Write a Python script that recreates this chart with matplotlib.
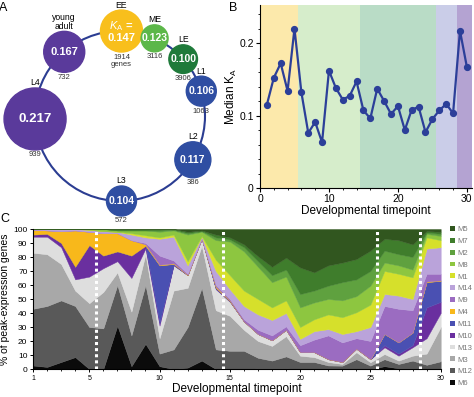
import matplotlib
matplotlib.use('Agg')
import matplotlib.pyplot as plt
import numpy as np
from matplotlib.patches import Circle, Patch
from matplotlib.ticker import MultipleLocator, FixedLocator

plt.rcParams['font.family'] = ['Liberation Sans', 'DejaVu Sans']
plt.rcParams['mathtext.fontset'] = 'custom'
plt.rcParams['mathtext.rm'] = 'Liberation Sans'
plt.rcParams['mathtext.it'] = 'Liberation Sans:italic'
plt.rcParams['mathtext.bf'] = 'Liberation Sans:bold'

# ---------------- Panel A data ----------------
stages = ['EE', 'ME', 'LE', 'L1', 'L2', 'L3', 'L4', 'young\nadult']
stage_ka = [0.147, 0.123, 0.100, 0.106, 0.117, 0.104, 0.217, 0.167]
stage_genes = ['1914\ngenes', '3116', '3906', '1063', '386', '572', '939', '732']

# ---------------- Panel B data ----------------
timepoints = list(range(1, 31))
median_ka = [0.115, 0.152, 0.172, 0.134, 0.220, 0.132, 0.076, 0.091, 0.063, 0.162,
             0.138, 0.122, 0.127, 0.147, 0.107, 0.096, 0.137, 0.120, 0.102, 0.113,
             0.080, 0.108, 0.112, 0.077, 0.095, 0.107, 0.116, 0.103, 0.217, 0.167]
stage_bounds = [0, 5.5, 14.5, 25.5, 28.5, 30.7]

# ---------------- Panel C data (percent of genes per module) ----------------
modules = ['M6', 'M12', 'M3', 'M13', 'M10', 'M11', 'M4', 'M9', 'M14', 'M1', 'M8', 'M2', 'M7', 'M5']
M6 = [2.5, 1.5, 5, 8.5, 0, 0, 31, 2, 18, 2, 0, 1, 6, 0, 0, 0, 0.5, 0.5, 0.5, 0,
      0, 0, 0, 0, 0, 2, 0.5, 0.5, 0, 0]
M12 = [40.5, 43.5, 44, 36.5, 30, 29, 29, 22, 42, 9, 14, 29, 52, 14, 13, 13, 7.5, 5.5, 8.5, 5,
       5, 2.5, 2.4, 7, 2.4, 5, 3.1, 5.5, 3, 5.5]
M3 = [40, 37, 26, 11, 17, 26, 9, 17, 22, 11, 42, 28, 30, 28, 25, 15, 12, 10.5, 14.5, 4.5,
      3.5, 2.5, 1.2, 5, 2.4, 3.7, 2.4, 3.5, 8, 24.5]
M13 = [11.5, 12.5, 12, 8, 19, 17, 8, 24, 4, 9, 18, 9, 5, 15, 10, 6, 5, 4, 4.5, 2.5,
       3.5, 2, 1.4, 2.5, 2.2, 4.8, 3.5, 6, 11, 10]
M10 = [1.5, 2, 3, 9, 22.5, 9, 7, 16, 2, 2, 0.5, 0, 0, 0.5, 0.5, 0, 0, 0, 0, 0,
       0, 0, 0, 0, 0, 1.5, 1.5, 1.5, 22, 8]
M11 = [0, 0, 0, 0, 0, 0, 0, 0, 0, 41, 0.5, 0, 0, 0.5, 0, 0, 0, 0, 0, 0,
       0, 0, 0, 0, 0, 8, 8, 9, 18, 15]
M4 = [3.5, 2.5, 8.5, 26, 9.5, 16, 13, 11, 1, 0.5, 0.5, 0.3, 0.2, 1, 0.5, 0, 0, 0, 0, 0,
      0, 0, 0, 0, 0, 0, 0, 0, 0.5, 0.3]
M9 = [0, 0, 0, 0, 0, 0, 0, 0, 1, 6.5, 2, 0.7, 0.3, 1, 1, 1.5, 3, 3.5, 2.5, 5,
      9, 17, 14, 7.5, 13, 20, 24, 16, 5.5, 4.7]
M14 = [0.5, 1, 1.5, 1, 1.5, 1.5, 1, 4, 4, 12, 17, 6, 1, 10, 7, 9.5, 11, 11, 9.5, 4.5,
       6, 4.5, 6, 5, 10, 8.6, 9.4, 8, 18, 19]
M1 = [0, 0, 0, 0, 0, 0, 0, 1, 1.5, 1, 1.5, 3, 0.5, 8, 10, 11, 11, 9, 9, 8.5,
      8.5, 10.5, 12, 13.5, 16, 16.4, 15.6, 15.5, 8, 5]
M8 = [0, 0, 0, 0, 0.5, 1.5, 1, 2, 3.5, 4, 3, 19, 3, 14, 24, 28, 23, 18, 17, 14,
      12, 11, 12, 11.5, 13.5, 6, 6, 5.5, 2.5, 3]
M2 = [0, 0, 0, 0, 0, 0, 0, 0, 0, 1, 0.5, 1, 0.5, 2, 1.5, 3, 4, 5, 5, 9.5,
      8.5, 9.5, 13, 12, 10.5, 8.5, 8, 9, 1, 1.5]
M7 = [0, 0, 0, 0, 0, 0, 1, 1, 1, 1, 0.5, 1, 0.5, 2, 1.5, 2, 3.5, 6, 8.5, 19,
      13, 14.5, 14, 14.5, 14.5, 8.5, 10, 9, 1, 1.5]
M5 = [0, 0, 0, 0, 0, 0, 0, 0, 0, 0, 0, 2, 1, 4, 6, 11, 19.5, 27, 20.5, 27.5,
      31, 26, 24, 21.5, 15.5, 7, 8, 11, 1.5, 2]
stage_breaks = [5.5, 14.5, 25.5, 28.5]

# ---------------- styles ----------------
stage_angle = [89, 66, 42, 17, -31, -89, 182, 131]
stage_radius = [21, 13.5, 14.3, 15, 18, 15, 31, 20.5]
stage_color = ['#f8bf1c', '#5cb749', '#1f7a3a', '#2f4ea2', '#2f4ea2', '#2f4ea2', '#5a3a9b', '#5a3a9b']
band_colors = ['#fce9ab', '#d6edcb', '#b9dcc6', '#cacde8', '#b4a3d2']
module_colors = ['#0b0b0b', '#595959', '#a8a8a8', '#dedede', '#6a2f9f', '#4a50b2', '#f8b81b',
                 '#9b6cc1', '#baa3da', '#d6e02b', '#8dc640', '#5fa13f', '#3f7d2c', '#31561f']

W, H = 474, 397
fig = plt.figure(figsize=(W / 100, H / 100), dpi=100)


def ax_px(l, t, r, b):
    return fig.add_axes([l / W, 1 - b / H, (r - l) / W, (b - t) / H])


# ---------------- Panel A ----------------
axA = ax_px(0, 0, 232, 222)
axA.set_xlim(0, 232)
axA.set_ylim(222, 0)
axA.axis('off')
cx, cy, R = 120, 116, 85
axA.add_patch(Circle((cx, cy), R, fill=False, ec='#2b3d92', lw=1.5, zorder=1))
for name, ka, g, ang, r, c in zip(stages, stage_ka, stage_genes, stage_angle, stage_radius, stage_color):
    x = cx + R * np.cos(np.radians(ang))
    y = cy - R * np.sin(np.radians(ang))
    axA.add_patch(Circle((x, y), r, color=c, zorder=2))
    inner = f'{ka:.3f}'
    fs = 7.5
    if name == 'EE':
        inner = r'$K_\mathrm{A}$ =' + '\n' + inner
    if r > 25:
        fs = 9.5
    elif r > 19:
        fs = 8
    axA.text(x, y, inner, color='white', fontweight='bold', ha='center', va='center',
             fontsize=fs, zorder=3, linespacing=1.0)
    axA.text(x, y - r - 2.5, name, ha='center', va='baseline', fontsize=6.2, linespacing=0.95)
    axA.text(x, y + r + 1.5, g, ha='center', va='top', fontsize=5.5, color='#333333', linespacing=1.0)

# ---------------- Panel B ----------------
axB = ax_px(260, 5, 471.7, 188)
for i in range(len(band_colors)):
    axB.axvspan(stage_bounds[i], stage_bounds[i + 1], color=band_colors[i], lw=0, zorder=0)
axB.plot(timepoints, median_ka, color='#2c3f99', lw=1.6, marker='o', ms=4.2, zorder=3)
axB.set_xlim(0, 30.7)
axB.set_ylim(0, 0.2525)
axB.set_xticks([0, 10, 20, 30])
axB.set_yticks([0, 0.1, 0.2])
axB.set_yticklabels(['0', '0.1', '0.2'])
axB.xaxis.set_minor_locator(MultipleLocator(2))
axB.yaxis.set_minor_locator(MultipleLocator(0.02))
axB.tick_params(which='major', direction='out', length=3, width=0.8, labelsize=7.5, pad=1.5)
axB.tick_params(which='minor', direction='out', length=1.5, width=0.6)
for s in ['top', 'right']:
    axB.spines[s].set_visible(False)
axB.set_xlabel('Developmental timepoint', fontsize=8.5, labelpad=0.5)
axB.set_ylabel(r'Median K$_\mathrm{A}$', fontsize=8.5, labelpad=0.5)

# ---------------- Panel C ----------------
axC = ax_px(33, 229, 440.7, 369)
series = [M6, M12, M3, M13, M10, M11, M4, M9, M14, M1, M8, M2, M7, M5]
polys = axC.stackplot(timepoints, *series, colors=module_colors, lw=0)
for p, c in zip(polys, module_colors):
    p.set_edgecolor(c)
    p.set_linewidth(0.3)
for b in stage_breaks:
    axC.axvline(b, color='white', lw=2.2, ls=(0, (1, 1)), zorder=4)
axC.set_xlim(1, 30)
axC.set_ylim(0, 100)
axC.set_yticks(range(0, 101, 10))
axC.xaxis.set_major_locator(FixedLocator([1, 5, 10, 15, 20, 25, 30]))
axC.xaxis.set_minor_locator(MultipleLocator(1))
axC.tick_params(axis='y', direction='out', length=2.5, width=0.7, labelsize=6, pad=1.5)
axC.tick_params(axis='x', which='major', direction='out', length=2, width=0.7, labelsize=5, pad=2)
axC.tick_params(axis='x', which='minor', direction='out', length=1.5, width=0.6)
for s in ['top', 'right']:
    axC.spines[s].set_visible(False)
axC.set_xlabel('Developmental timepoint', fontsize=8.5, labelpad=1)
axC.set_ylabel('% of peak-expression genes', fontsize=7.5, labelpad=2)

handles = [Patch(facecolor=c, edgecolor='none') for c in module_colors][::-1]
labels = modules[::-1]
leg = fig.legend(handles, labels, loc='upper left', bbox_to_anchor=(450 / W, 1 - 226 / H),
                 frameon=False, fontsize=5.5, handlelength=0.6, handleheight=0.6,
                 handletextpad=0.4, labelspacing=0.62, borderaxespad=0, borderpad=0)
for t in leg.get_texts():
    t.set_color('#777777')

# ---------------- Panel labels ----------------
fig.text(-1 / W, 1 - 2 / H, 'A', fontsize=9, va='top', ha='left')
fig.text(229 / W, 1 - 2 / H, 'B', fontsize=9, va='top', ha='left')
fig.text(0 / W, 1 - 213 / H, 'C', fontsize=9, va='top', ha='left')

fig.savefig('out.png', dpi=100)
